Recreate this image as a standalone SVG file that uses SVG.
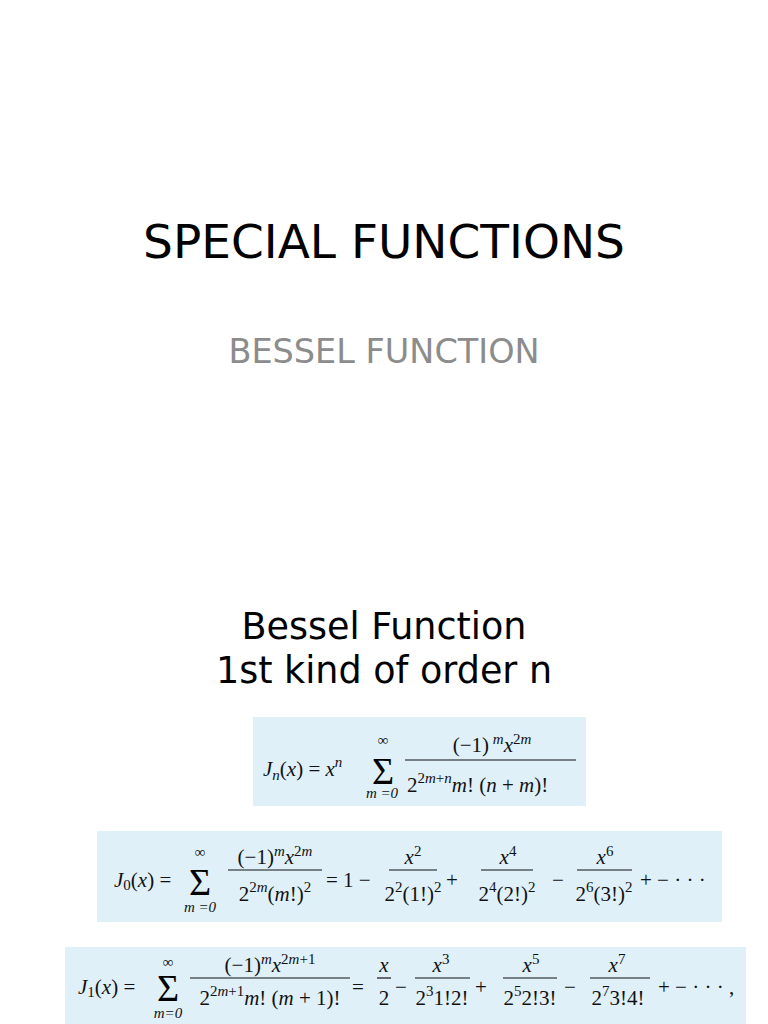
<svg xmlns="http://www.w3.org/2000/svg" width="768" height="1024" viewBox="0 0 768 1024">
<style>
.t{font-family:"DejaVu Sans",sans-serif;text-anchor:middle}
.m{font-family:"Liberation Serif",serif;font-size:21px;fill:#111}
.i{font-style:italic}
.s{font-size:15px}
.c{text-anchor:middle}
.sig{font-family:"Liberation Serif",serif;font-size:38px;text-anchor:middle}
.box{fill:#dff0f9}
.fl{stroke:#111;stroke-width:1.2}
</style>
<rect width="768" height="1024" fill="#fff"/>
<text class="t" x="384" y="258" font-size="47">SPECIAL FUNCTIONS</text>
<text class="t" x="384" y="363" font-size="33.5" fill="#8c8c8c">BESSEL FUNCTION</text>
<text class="t" x="384" y="639" font-size="36.5">Bessel Function</text>
<text class="t" x="384" y="683" font-size="36.5">1st kind of order n</text>

<g id="eq1">
<rect class="box" x="253" y="717" width="333" height="89"/>
<text class="m" x="263" y="776"><tspan class="i">J</tspan><tspan class="i s" dy="4">n</tspan><tspan dy="-4">(</tspan><tspan class="i">x</tspan>) = <tspan class="i">x</tspan><tspan class="i s" dy="-9">n</tspan></text>
<text class="sig" x="383" y="784">Σ</text>
<text class="m s c" x="383" y="745">∞</text>
<text class="m s c i" x="382" y="798">m =0</text>
<text class="m c" x="492" y="752">(−1)<tspan class="i s" dy="-8"> m</tspan><tspan class="i" dy="8">x</tspan><tspan class="s" dy="-8">2<tspan class="i">m</tspan></tspan></text>
<line class="fl" x1="405" y1="760" x2="576" y2="760"/>
<text class="m" x="407" y="792">2<tspan class="s" dy="-9">2<tspan class="i">m</tspan>+<tspan class="i">n</tspan></tspan><tspan class="i" dy="9">m</tspan>! (<tspan class="i">n</tspan> + <tspan class="i">m</tspan>)!</text>
</g>

<g id="eq2">
<rect class="box" x="97" y="831" width="625" height="91"/>
<text class="m" x="114" y="887"><tspan class="i">J</tspan><tspan class="s" dy="3">0</tspan><tspan dy="-3">(</tspan><tspan class="i">x</tspan>) =</text>
<text class="sig" x="200" y="895">Σ</text>
<text class="m s c" x="200" y="857">∞</text>
<text class="m s c i" x="200" y="912">m =0</text>
<text class="m c" x="275" y="864">(−1)<tspan class="i s" dy="-8">m</tspan><tspan class="i" dy="8">x</tspan><tspan class="s" dy="-8">2<tspan class="i">m</tspan></tspan></text>
<line class="fl" x1="228" y1="870" x2="322" y2="870"/>
<text class="m c" x="275" y="901">2<tspan class="s" dy="-9">2<tspan class="i">m</tspan></tspan><tspan dy="9">(</tspan><tspan class="i">m</tspan>!)<tspan class="s" dy="-9">2</tspan></text>
<text class="m" x="326" y="887">= 1 −</text>
<text class="m c i" x="413" y="864">x<tspan class="s" dy="-8" font-style="normal">2</tspan></text>
<line class="fl" x1="389" y1="870" x2="437" y2="870"/>
<text class="m c" x="413" y="901">2<tspan class="s" dy="-9">2</tspan><tspan dy="9">(1!)</tspan><tspan class="s" dy="-9">2</tspan></text>
<text class="m c" x="452" y="887">+</text>
<text class="m c i" x="508" y="864">x<tspan class="s" dy="-8" font-style="normal">4</tspan></text>
<line class="fl" x1="481" y1="870" x2="533" y2="870"/>
<text class="m c" x="507" y="901">2<tspan class="s" dy="-9">4</tspan><tspan dy="9">(2!)</tspan><tspan class="s" dy="-9">2</tspan></text>
<text class="m c" x="558" y="887">−</text>
<text class="m c i" x="605" y="864">x<tspan class="s" dy="-8" font-style="normal">6</tspan></text>
<line class="fl" x1="577" y1="870" x2="632" y2="870"/>
<text class="m c" x="604" y="901">2<tspan class="s" dy="-9">6</tspan><tspan dy="9">(3!)</tspan><tspan class="s" dy="-9">2</tspan></text>
<text class="m" x="640" y="887">+ − · · ·</text>
</g>

<g id="eq3">
<rect class="box" x="65" y="947" width="681" height="77"/>
<text class="m" x="78" y="994"><tspan class="i">J</tspan><tspan class="s" dy="3">1</tspan><tspan dy="-3">(</tspan><tspan class="i">x</tspan>) =</text>
<text class="sig" x="168" y="1001">Σ</text>
<text class="m s c" x="168" y="967">∞</text>
<text class="m s c i" x="168" y="1018">m=0</text>
<text class="m c" x="270" y="972">(−1)<tspan class="i s" dy="-8">m</tspan><tspan class="i" dy="8">x</tspan><tspan class="s" dy="-8">2<tspan class="i">m</tspan>+1</tspan></text>
<line class="fl" x1="190" y1="978" x2="350" y2="978"/>
<text class="m c" x="270" y="1005">2<tspan class="s" dy="-9">2<tspan class="i">m</tspan>+1</tspan><tspan class="i" dy="9">m</tspan>! (<tspan class="i">m</tspan> + 1)!</text>
<text class="m" x="352" y="994">=</text>
<text class="m c i" x="384" y="972">x</text>
<line class="fl" x1="377" y1="978" x2="391" y2="978"/>
<text class="m c" x="384" y="1005">2</text>
<text class="m c" x="401" y="994">−</text>
<text class="m c i" x="441" y="972">x<tspan class="s" dy="-8" font-style="normal">3</tspan></text>
<line class="fl" x1="415" y1="978" x2="470" y2="978"/>
<text class="m c" x="442" y="1005">2<tspan class="s" dy="-9">3</tspan><tspan dy="9">1!2!</tspan></text>
<text class="m c" x="481" y="994">+</text>
<text class="m c i" x="531" y="972">x<tspan class="s" dy="-8" font-style="normal">5</tspan></text>
<line class="fl" x1="503" y1="978" x2="557" y2="978"/>
<text class="m c" x="530" y="1005">2<tspan class="s" dy="-9">5</tspan><tspan dy="9">2!3!</tspan></text>
<text class="m c" x="570" y="994">−</text>
<text class="m c i" x="617" y="972">x<tspan class="s" dy="-8" font-style="normal">7</tspan></text>
<line class="fl" x1="590" y1="978" x2="650" y2="978"/>
<text class="m c" x="618" y="1005">2<tspan class="s" dy="-9">7</tspan><tspan dy="9">3!4!</tspan></text>
<text class="m" x="658" y="994">+ − · · · ,</text>
</g>
</svg>
